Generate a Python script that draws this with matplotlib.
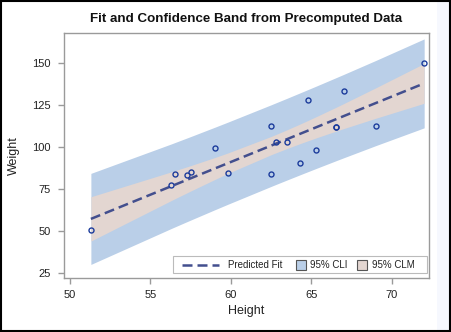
import matplotlib
matplotlib.use("Agg")
import matplotlib.pyplot as plt
from matplotlib.lines import Line2D
from matplotlib.patches import Rectangle
from matplotlib.transforms import Affine2D

plt.rcParams['font.family'] = ['Liberation Sans', 'DejaVu Sans']

# observed data (sorted by height)
height = [51.3, 56.3, 56.5, 57.3, 57.5, 59.0, 59.8, 62.5, 62.5, 62.8,
          63.5, 64.3, 64.8, 65.3, 66.5, 66.5, 67.0, 69.0, 72.0]
weight = [50.5, 77.0, 84.0, 83.0, 85.0, 99.5, 84.5, 112.5, 84.0, 102.5,
          102.5, 90.0, 128.0, 98.0, 112.0, 112.0, 133.0, 112.5, 150.0]

# precomputed fit and limits
fit = [56.99, 76.49, 77.27, 80.39, 81.17, 87.02, 90.14, 100.66, 100.66, 101.83,
       104.56, 107.68, 109.63, 111.58, 116.26, 116.26, 118.21, 126.01, 137.70]
lclm = [43.80, 67.96, 68.91, 72.67, 73.60, 80.48, 84.04, 95.23, 95.23, 96.37,
        98.98, 101.84, 103.57, 105.26, 109.18, 109.18, 110.77, 116.94, 125.86]
uclm = [70.18, 85.02, 85.63, 88.11, 88.73, 93.55, 96.23, 106.10, 106.10, 107.29,
        110.14, 113.52, 115.69, 117.90, 123.33, 123.33, 125.65, 135.07, 149.55]
lcli = [29.88, 51.31, 52.15, 55.48, 56.30, 62.45, 65.68, 76.36, 76.36, 77.53,
        80.23, 83.29, 85.18, 87.07, 91.54, 91.54, 93.38, 100.65, 111.22]
ucli = [84.10, 101.66, 102.39, 105.30, 106.03, 111.59, 114.59, 124.96, 124.96, 126.14,
        128.89, 132.08, 134.08, 136.09, 140.98, 140.98, 143.03, 151.37, 164.18]

legend_labels = ['Predicted Fit', '95% CLI', '95% CLM']

cli_color = '#BACFE8'
clm_color = '#E3D6D1'
fit_color = '#434F8E'
pt_color = '#1C3C9C'

W, H = 451, 332
fig = plt.figure(figsize=(W / 100, H / 100), dpi=100)
ax = fig.add_axes([64 / W, 54 / H, 365 / W, 245 / H])

ax.fill_between(height, lcli, ucli, color=cli_color, lw=0)
ax.fill_between(height, lclm, uclm, color=clm_color, lw=0)
ax.plot(height, fit, color=fit_color, lw=1.8, dashes=(4, 2))
ax.plot(height, weight, 'o', mfc='none', mec=pt_color, ms=3.6, mew=1.0)

ax.set_xlim(49.63, 72.3)
ax.set_ylim(21.8, 167.7)
ax.set_xticks([50, 55, 60, 65, 70])
ax.set_yticks([25, 50, 75, 100, 125, 150])

for s in ax.spines.values():
    s.set_color('#9A9A9A')
    s.set_linewidth(1)
ax.tick_params(colors='#9A9A9A', labelcolor='#222222', labelsize=8,
               length=4.3, width=1)
ax.tick_params(axis='y', pad=5)
ax.tick_params(axis='x', pad=4)

ax.set_xlabel('Height', fontsize=9, color='#222222', labelpad=4)
ax.set_ylabel('Weight', fontsize=9, color='#222222', labelpad=9)
ax.set_title('Fit and Confidence Band from Precomputed Data',
             fontsize=9.6, fontweight='bold', color='#111111', pad=8)

# legend drawn in pixel coordinates (y measured from the top)
px = Affine2D().scale(1 / W, -1 / H).translate(0, 1) + fig.transFigure
fig.patches.append(Rectangle((173, 256), 254, 17, transform=px, facecolor='white',
                             edgecolor='#BBBBBB', lw=0.8, zorder=3))
fig.lines.append(Line2D([182, 219], [264.5, 264.5], transform=px, color=fit_color,
                        lw=1.8, dashes=(4, 2), zorder=4))
fig.text(228, 264.5, legend_labels[0], transform=px, fontsize=7, va='center',
         color='#222222', zorder=4)
for sx, tx, col, lab in [(296, 310.5, cli_color, legend_labels[1]),
                         (357, 372.5, clm_color, legend_labels[2])]:
    fig.patches.append(Rectangle((sx, 259.5), 10, 10, transform=px, facecolor=col,
                                 edgecolor='#555555', lw=0.8, zorder=4))
    fig.text(tx, 264.5, lab, transform=px, fontsize=7, va='center',
             color='#222222', zorder=4)

# window strip on the right and outer border
fig.patches.append(Rectangle((437, 0), 12, H, transform=px,
                             facecolor='#F6F8FE', edgecolor='none', zorder=0))
fig.patches.append(Rectangle((0.5, 1), 449, 330, transform=px, fill=False,
                             edgecolor='black', lw=1.5, zorder=5))

fig.savefig('out.png', dpi=100)
